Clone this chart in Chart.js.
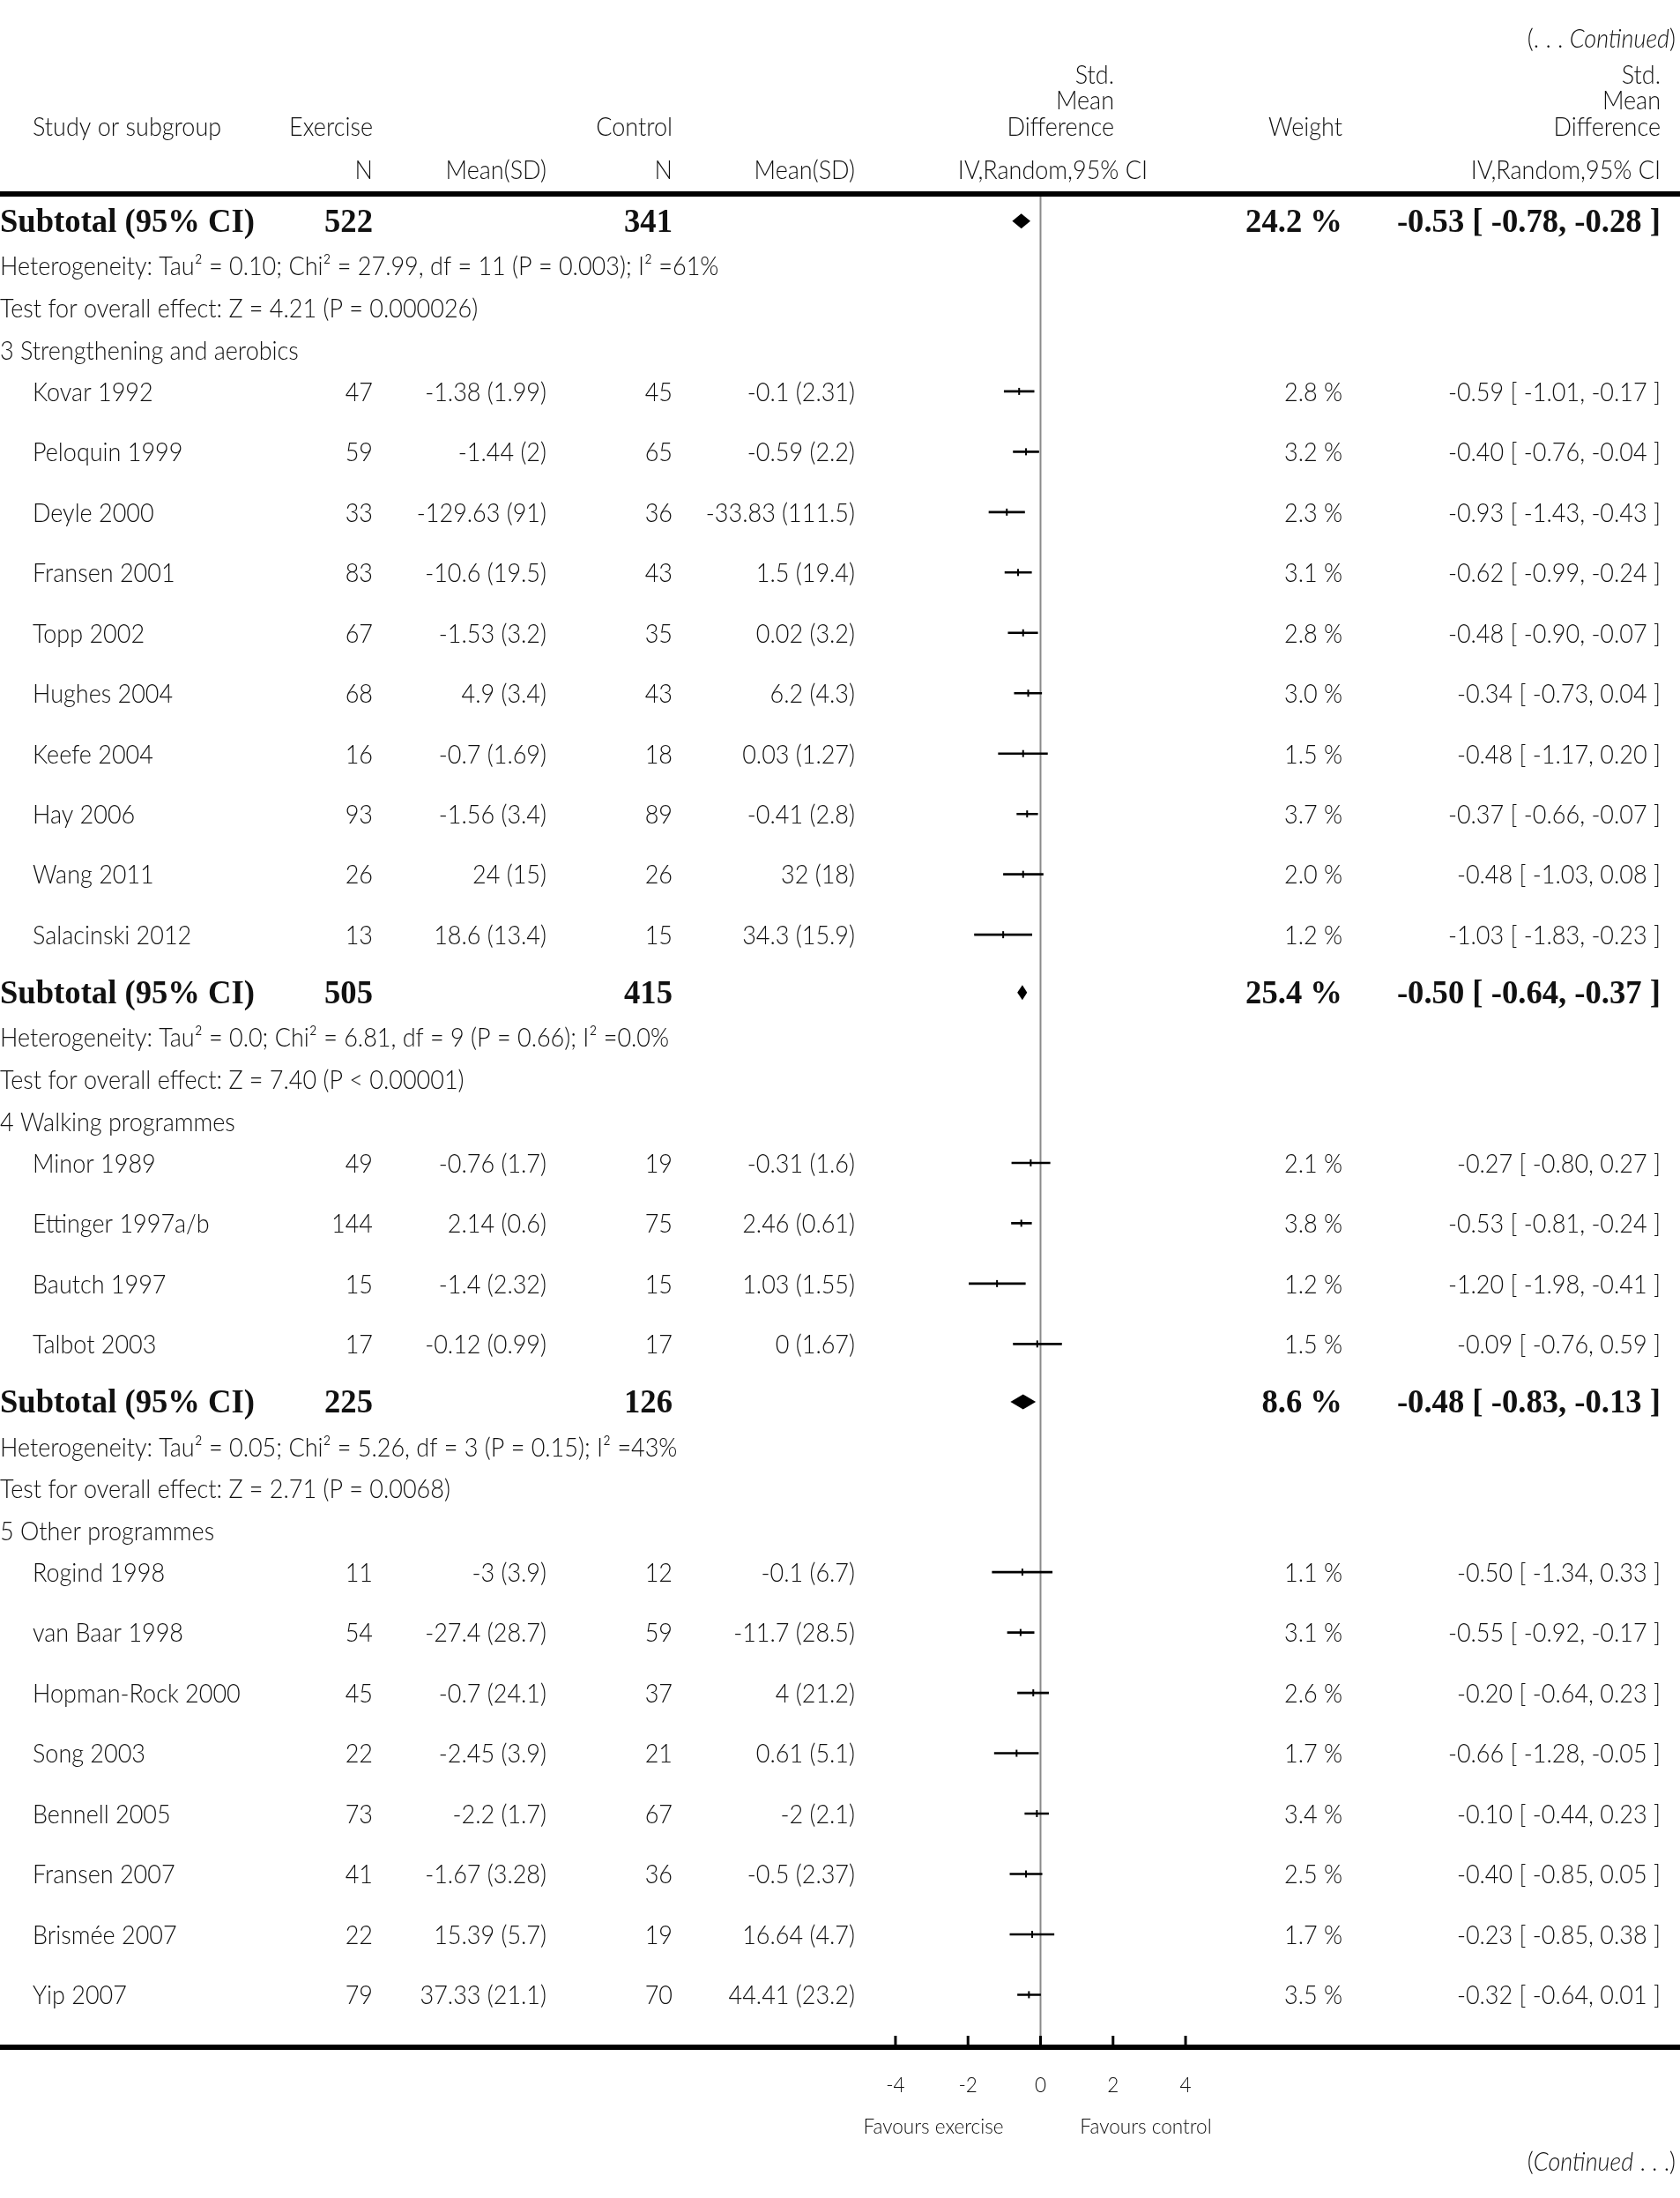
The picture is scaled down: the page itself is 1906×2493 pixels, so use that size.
<!DOCTYPE html>
<html>
<head>
<meta charset="utf-8">
<script src="https://cdn.jsdelivr.net/npm/chart.js@4.4.1/dist/chart.umd.min.js"></script>
<style>
  html, body { margin: 0; padding: 0; background: #fff; }
  canvas { display: block; }
</style>
</head>
<body>
<canvas id="forestChart" width="1906" height="2493"></canvas>
<script>
// ---- data ----
const groupTitles = ['3 Strengthening and aerobics', '4 Walking programmes', '5 Other programmes'];
const groupSizes = [10, 4, 8];

const studyNames = [
  'Kovar 1992', 'Peloquin 1999', 'Deyle 2000', 'Fransen 2001', 'Topp 2002',
  'Hughes 2004', 'Keefe 2004', 'Hay 2006', 'Wang 2011', 'Salacinski 2012',
  'Minor 1989', 'Ettinger 1997a/b', 'Bautch 1997', 'Talbot 2003',
  'Rogind 1998', 'van Baar 1998', 'Hopman-Rock 2000', 'Song 2003',
  'Bennell 2005', 'Fransen 2007', 'Brismée 2007', 'Yip 2007'
];
const exerciseN = [47, 59, 33, 83, 67, 68, 16, 93, 26, 13, 49, 144, 15, 17, 11, 54, 45, 22, 73, 41, 22, 79];
const exerciseMeanSD = [
  '-1.38 (1.99)', '-1.44 (2)', '-129.63 (91)', '-10.6 (19.5)', '-1.53 (3.2)',
  '4.9 (3.4)', '-0.7 (1.69)', '-1.56 (3.4)', '24 (15)', '18.6 (13.4)',
  '-0.76 (1.7)', '2.14 (0.6)', '-1.4 (2.32)', '-0.12 (0.99)',
  '-3 (3.9)', '-27.4 (28.7)', '-0.7 (24.1)', '-2.45 (3.9)',
  '-2.2 (1.7)', '-1.67 (3.28)', '15.39 (5.7)', '37.33 (21.1)'
];
const controlN = [45, 65, 36, 43, 35, 43, 18, 89, 26, 15, 19, 75, 15, 17, 12, 59, 37, 21, 67, 36, 19, 70];
const controlMeanSD = [
  '-0.1 (2.31)', '-0.59 (2.2)', '-33.83 (111.5)', '1.5 (19.4)', '0.02 (3.2)',
  '6.2 (4.3)', '0.03 (1.27)', '-0.41 (2.8)', '32 (18)', '34.3 (15.9)',
  '-0.31 (1.6)', '2.46 (0.61)', '1.03 (1.55)', '0 (1.67)',
  '-0.1 (6.7)', '-11.7 (28.5)', '4 (21.2)', '0.61 (5.1)',
  '-2 (2.1)', '-0.5 (2.37)', '16.64 (4.7)', '44.41 (23.2)'
];
const weights = [2.8, 3.2, 2.3, 3.1, 2.8, 3.0, 1.5, 3.7, 2.0, 1.2, 2.1, 3.8, 1.2, 1.5, 1.1, 3.1, 2.6, 1.7, 3.4, 2.5, 1.7, 3.5];
const smd = [-0.59, -0.40, -0.93, -0.62, -0.48, -0.34, -0.48, -0.37, -0.48, -1.03, -0.27, -0.53, -1.20, -0.09, -0.50, -0.55, -0.20, -0.66, -0.10, -0.40, -0.23, -0.32];
const ciLow = [-1.01, -0.76, -1.43, -0.99, -0.90, -0.73, -1.17, -0.66, -1.03, -1.83, -0.80, -0.81, -1.98, -0.76, -1.34, -0.92, -0.64, -1.28, -0.44, -0.85, -0.85, -0.64];
const ciHigh = [-0.17, -0.04, -0.43, -0.24, -0.07, 0.04, 0.20, -0.07, 0.08, -0.23, 0.27, -0.24, -0.41, 0.59, 0.33, -0.17, 0.23, -0.05, 0.23, 0.05, 0.38, 0.01];

const subtotalExN = [522, 505, 225];
const subtotalCtN = [341, 415, 126];
const subtotalWeight = [24.2, 25.4, 8.6];
const subtotalSmd = [-0.53, -0.50, -0.48];
const subtotalLow = [-0.78, -0.64, -0.83];
const subtotalHigh = [-0.28, -0.37, -0.13];
const heterogeneity = [
  'Heterogeneity: Tau² = 0.10; Chi² = 27.99, df = 11 (P = 0.003); I² =61%',
  'Heterogeneity: Tau² = 0.0; Chi² = 6.81, df = 9 (P = 0.66); I² =0.0%',
  'Heterogeneity: Tau² = 0.05; Chi² = 5.26, df = 3 (P = 0.15); I² =43%'
];
const overallEffect = [
  'Test for overall effect: Z = 4.21 (P = 0.000026)',
  'Test for overall effect: Z = 7.40 (P < 0.00001)',
  'Test for overall effect: Z = 2.71 (P = 0.0068)'
];

const tickValues = [-4, -2, 0, 2, 4];
const tickLabels = ['-4', '-2', '0', '2', '4'];

// ---- row layout (vertical position of each line in row units) ----
const gaps = {
  'study-study': 1, 'study-subtotal': 0.96, 'subtotal-het': 0.74,
  'het-test': 0.7, 'test-title': 0.7, 'title-study': 0.68
};
const rows = [];
let pos = 0, prevType = null;
function addRow(type, idx) {
  if (prevType) pos += gaps[prevType + '-' + type];
  rows.push({ type: type, idx: idx, y: pos });
  prevType = type;
}
addRow('subtotal', 0); addRow('het', 0); addRow('test', 0);
let s = 0;
groupTitles.forEach((t, g) => {
  addRow('title', g);
  for (let k = 0; k < groupSizes[g]; k++) addRow('study', s++);
  if (g + 1 < subtotalExN.length) {
    addRow('subtotal', g + 1); addRow('het', g + 1); addRow('test', g + 1);
  }
});

const studyRows = rows.filter(r => r.type === 'study');
const subtotalRows = rows.filter(r => r.type === 'subtotal');

const ciLines = [];
studyRows.forEach(r => {
  ciLines.push({ x: ciLow[r.idx], y: r.y }, { x: ciHigh[r.idx], y: r.y }, { x: ciHigh[r.idx], y: null });
});
const estimates = studyRows.map(r => ({ x: smd[r.idx], y: r.y }));

// ---- drawing helpers ----
const INK = '#111';
// Gill Sans light look-alike: Lato light, squeezed a bit horizontally
const BODY = { font: '300 30px Lato', sx: 0.9, cap: 21.6 };
const ITALIC = { font: 'italic 300 30px Lato', sx: 0.9, cap: 21.6 };
const SMALL = { font: '300 24px Lato', sx: 0.94, cap: 17 };
const BOLD = { font: 'bold 37px "Liberation Serif"', sx: 0.99, cap: 24.5 };

// columns (right edges unless noted)
const COL = { name: 37, exN: 423, exMean: 620, ctN: 763, ctMean: 970, ciHead: 1264, ciHead2: 1302, weight: 1523, ci: 1884 };

// draws text so that its capital letters are centred on cy
function text(ctx, str, x, cy, align, f) {
  ctx.save();
  ctx.font = f.font;
  ctx.textAlign = align;
  ctx.textBaseline = 'alphabetic';
  ctx.translate(x, cy + f.cap / 2);
  ctx.scale(f.sx, 1);
  ctx.fillText(str, 0, 0);
  ctx.restore();
}
function textWidth(ctx, str, f) {
  ctx.font = f.font;
  return ctx.measureText(str).width * f.sx;
}
function ciText(v, lo, hi) {
  return v.toFixed(2) + ' [ ' + lo.toFixed(2) + ', ' + hi.toFixed(2) + ' ]';
}
function mixedRight(ctx, parts, right, cy) {
  let w = 0;
  parts.forEach(p => { w += textWidth(ctx, p[0], p[1]); });
  let x = right - w;
  parts.forEach(p => { text(ctx, p[0], x, cy, 'left', p[1]); x += textWidth(ctx, p[0], p[1]); });
}

const forestPlugin = {
  id: 'forestPlugin',
  beforeDatasetsDraw(chart) {
    const { ctx, scales: { x } } = chart;
    ctx.save();
    // line of no effect
    ctx.strokeStyle = '#8a8a8a';
    ctx.lineWidth = 2;
    ctx.beginPath();
    ctx.moveTo(x.getPixelForValue(0), 222);
    ctx.lineTo(x.getPixelForValue(0), 2320);
    ctx.stroke();
    ctx.restore();
  },
  afterDatasetsDraw(chart) {
    const { ctx, scales: { x, y } } = chart;
    ctx.save();
    // subtotal diamonds
    ctx.fillStyle = '#000';
    subtotalRows.forEach(r => {
      const py = y.getPixelForValue(r.y);
      ctx.beginPath();
      ctx.moveTo(x.getPixelForValue(subtotalLow[r.idx]), py);
      ctx.lineTo(x.getPixelForValue(subtotalSmd[r.idx]), py - 8.5);
      ctx.lineTo(x.getPixelForValue(subtotalHigh[r.idx]), py);
      ctx.lineTo(x.getPixelForValue(subtotalSmd[r.idx]), py + 8.5);
      ctx.closePath();
      ctx.fill();
    });

    // rules and axis
    ctx.fillRect(0, 217, 1906, 6);
    ctx.fillRect(0, 2319, 1906, 6);
    tickValues.forEach(v => {
      ctx.fillRect(x.getPixelForValue(v) - 1.5, 2309, 3, 10);
    });

    ctx.fillStyle = INK;
    tickValues.forEach((v, i) => text(ctx, tickLabels[i], x.getPixelForValue(v), 2364, 'center', SMALL));
    text(ctx, 'Favours exercise', 1059, 2411, 'center', SMALL);
    text(ctx, 'Favours control', 1300, 2411, 'center', SMALL);

    // header
    mixedRight(ctx, [['(. . . ', BODY], ['Continued', ITALIC], [')', BODY]], 1901, 43);
    mixedRight(ctx, [['(', BODY], ['Continued', ITALIC], [' . . .)', BODY]], 1901, 2451);
    ['Std.', 'Mean', 'Difference'].forEach((h, i) => {
      text(ctx, h, COL.ciHead, 84 + i * 29.5, 'right', BODY);
      text(ctx, h, COL.ci, 84 + i * 29.5, 'right', BODY);
    });
    text(ctx, 'Study or subgroup', COL.name, 143, 'left', BODY);
    text(ctx, 'Exercise', COL.exN, 143, 'right', BODY);
    text(ctx, 'Control', COL.ctN, 143, 'right', BODY);
    text(ctx, 'Weight', COL.weight, 143, 'right', BODY);
    text(ctx, 'N', COL.exN, 192, 'right', BODY);
    text(ctx, 'Mean(SD)', COL.exMean, 192, 'right', BODY);
    text(ctx, 'N', COL.ctN, 192, 'right', BODY);
    text(ctx, 'Mean(SD)', COL.ctMean, 192, 'right', BODY);
    text(ctx, 'IV,Random,95% CI', COL.ciHead2, 192, 'right', BODY);
    text(ctx, 'IV,Random,95% CI', COL.ci, 192, 'right', BODY);

    // table rows
    rows.forEach(r => {
      const py = y.getPixelForValue(r.y);
      const i = r.idx;
      if (r.type === 'subtotal') {
        text(ctx, 'Subtotal (95% CI)', 0, py, 'left', BOLD);
        text(ctx, String(subtotalExN[i]), COL.exN, py, 'right', BOLD);
        text(ctx, String(subtotalCtN[i]), COL.ctN, py, 'right', BOLD);
        text(ctx, subtotalWeight[i].toFixed(1) + ' %', COL.weight, py, 'right', BOLD);
        text(ctx, ciText(subtotalSmd[i], subtotalLow[i], subtotalHigh[i]), COL.ci, py, 'right', BOLD);
      } else if (r.type === 'het') {
        text(ctx, heterogeneity[i], 0, py, 'left', BODY);
      } else if (r.type === 'test') {
        text(ctx, overallEffect[i], 0, py, 'left', BODY);
      } else if (r.type === 'title') {
        text(ctx, groupTitles[i], 0, py, 'left', BODY);
      } else {
        text(ctx, studyNames[i], COL.name, py, 'left', BODY);
        text(ctx, String(exerciseN[i]), COL.exN, py, 'right', BODY);
        text(ctx, exerciseMeanSD[i], COL.exMean, py, 'right', BODY);
        text(ctx, String(controlN[i]), COL.ctN, py, 'right', BODY);
        text(ctx, controlMeanSD[i], COL.ctMean, py, 'right', BODY);
        text(ctx, weights[i].toFixed(1) + ' %', COL.weight, py, 'right', BODY);
        text(ctx, ciText(smd[i], ciLow[i], ciHigh[i]), COL.ci, py, 'right', BODY);
      }
    });
    ctx.restore();
  }
};

const ctx = document.getElementById('forestChart').getContext('2d');
const forestChart = new Chart(ctx, {
  type: 'scatter',
  data: {
    datasets: [
      {
        label: 'CI',
        data: ciLines,
        showLine: true,
        spanGaps: false,
        borderColor: '#000',
        borderWidth: 2.6,
        pointRadius: 0,
      },
      {
        label: 'Estimate',
        data: estimates,
        pointStyle: 'line',
        rotation: 90,
        pointRadius: 4,
        borderColor: '#000',
        borderWidth: 2,
      },
    ],
  },
  options: {
    responsive: false,
    animation: false,
    devicePixelRatio: 1,
    layout: { padding: 0 },
    plugins: { legend: { display: false }, tooltip: { enabled: false } },
    scales: {
      // 0 sits at x = 1182, 41.4 px per unit
      x: { type: 'linear', min: -28.55, max: 17.49, display: false },
      // row 0 at y = 246, 68.8 px per row
      y: { type: 'linear', reverse: true, min: -3.576, max: 32.66, display: false },
    },
  },
  plugins: [forestPlugin],
});
</script>
</body>
</html>
